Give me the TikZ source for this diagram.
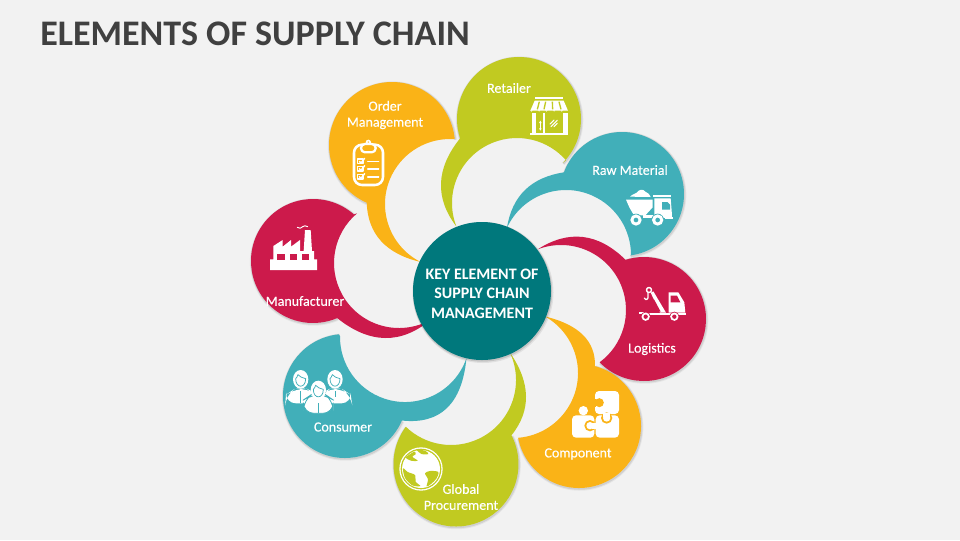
\documentclass[tikz,border=0pt]{standalone}
\usepackage{fontspec}
\setmainfont{Carlito}
\newfontfamily\labfont[FakeBold=0.25]{Carlito}
\definecolor{bgc}{HTML}{F2F2F2}
\definecolor{orangec}{HTML}{FAB317}
\definecolor{olivec}{HTML}{C1CA21}
\definecolor{tealc}{HTML}{41AFB9}
\definecolor{redc}{HTML}{CC1A4B}
\definecolor{corec}{HTML}{00787C}
\definecolor{titlec}{HTML}{404040}
\tikzset{
  lab/.style={text=white,font=\labfont\fontsize{10.5}{12}\selectfont,align=center,inner sep=0pt},
  corelab/.style={text=white,font=\fontsize{12}{14.6}\selectfont\bfseries,align=center,inner sep=0pt},
  titlelab/.style={text=titlec,font=\fontsize{27}{30}\selectfont\bfseries,inner sep=0pt,anchor=west},
  icline/.style={draw=white,line cap=round,line join=round}
}
% big circle and inner hole of a petal
\newcommand\petalcirc[6]{\def\ppcx{#1}\def\ppcy{#2}\def\ppcr{#3}\def\ppix{#4}\def\ppiy{#5}\def\ppir{#6}}
% colour, tip A, join J, mid M, tail end T
\newcommand\petaltail[9]{%
  \pgfmathsetmacro\ppaa{atan2(-(#3-\ppcy),#2-\ppcx)}%
  \pgfmathsetmacro\ppab{atan2(-(#5-\ppcy),#4-\ppcx)}%
  \pgfmathsetmacro\ppab{\ppab<\ppaa?\ppab+360:\ppab}%
  \pgfmathsetmacro\ppta{atan2(-(#9-\ppiy),#8-\ppix)}%
  \pgfmathsetmacro\pptb{atan2(-(#3-\ppiy),#2-\ppix)}%
  \pgfmathsetmacro\pptb{\pptb>\ppta?\pptb-360:\pptb}%
  \pgfmathsetmacro\ppsx{\ppcx+\ppcr*cos(\ppaa)}\pgfmathsetmacro\ppsy{\ppcy-\ppcr*sin(\ppaa)}%
  \pgfmathsetmacro\ppjx{\ppcx+\ppcr*cos(\ppab)}\pgfmathsetmacro\ppjy{\ppcy-\ppcr*sin(\ppab)}%
  \pgfmathsetmacro\pptx{\ppix+\ppir*cos(\ppta)}\pgfmathsetmacro\ppty{\ppiy-\ppir*sin(\ppta)}%
  \pgfmathsetmacro\ppcax{(4*#6-\pptx)/3}\pgfmathsetmacro\ppcay{(4*#7-\ppty)/3}%
  \pgfmathsetmacro\ppcbx{(4*#6-\ppjx)/3}\pgfmathsetmacro\ppcby{(4*#7-\ppjy)/3}%
  \pgfmathsetmacro\ppcrp{\ppcr*0.75}\pgfmathsetmacro\ppirp{\ppir*0.75}%
  \def\pparc{(\ppsx,\ppsy) arc[start angle=\ppaa,end angle=\ppab,radius=\ppcrp pt]}%
  \def\pppth{\pparc
    .. controls (\ppcax,\ppcay) and (\ppcbx,\ppcby) .. (\pptx,\ppty)
    arc[start angle=\ppta,end angle=\pptb,radius=\ppirp pt] -- cycle}%
  \draw[black,opacity=.05,line width=2.6pt,shift={(.6,1)}] \pparc;
  \draw[black,opacity=.09,line width=1.4pt,shift={(.5,.8)}] \pparc;
  \fill[#1] \pppth;
}
\begin{document}
\begin{tikzpicture}[x=.75pt,y=-.75pt]
\useasboundingbox (0,0) rectangle (960,540);
\fill[bgc] (0,0) rectangle (960,540);
\node[titlelab] (title) at (40,34) {ELEMENTS OF SUPPLY CHAIN};

% Petals
\petalcirc{313}{261}{62}{399}{263}{65}
\petaltail{redc}{356}{212}{338}{320}{385}{338}{432}{322}
\petalcirc{392}{145}{63}{450}{204}{65}
\petaltail{orangec}{453}{139}{367}{202}{381}{241}{420}{263}
\petalcirc{519}{119}{62}{517}{203}{65}
\petaltail{olivec}{563}{163}{458}{139}{441}{183}{455}{227}
\petalcirc{644}{319}{62}{561}{310}{65}
\petaltail{redc}{600}{362}{625}{258}{583}{237}{538}{250}
\petalcirc{622}{194}{62}{566}{255}{65}
\petaltail{tealc}{630}{255}{563}{172}{525}{190}{505}{227}
\petalcirc{579}{426}{62}{513}{373}{65}
\petaltail{orangec}{518}{438}{595}{366}{583}{335}{547}{313}
\petalcirc{456}{464}{62.5}{451}{380}{65}
\petaltail{olivec}{406}{427}{512}{435}{526}{396}{509}{353}
\petalcirc{345}{396}{62}{405}{337}{65}
\petaltail{tealc}{339}{336}{403}{421}{447}{408}{466}{358}

% Centre
\fill[black,opacity=.07] (483,292.5) circle (70.5);
\fill[black,opacity=.12] (482.5,292) circle (69.7);
\fill[corec] (482,291) circle (69);

% Clipboard
\begin{scope}[shift={(240,50)},scale=1/3]
\draw[icline,line width=1.9pt,rounded corners=6] (342,284) rectangle (429,405);
\fill[white] (385,277) circle (8);
\draw[icline,line width=1.7pt,fill=orangec,rounded corners=3] (363,282) rectangle (407,307);
\fill[white] (385,276) circle (6);
\fill[orangec] (385,276) circle (2);
\foreach \yy in {334,356,380}{
  \draw[icline,line width=.8pt,line cap=butt] (353,\yy-7) rectangle (369,\yy+7);
  \draw[icline,line width=1.1pt] (358,\yy) -- (363,\yy+5) -- (374,\yy-9);
  \draw[icline,line width=1pt] (383,\yy+1) -- (416,\yy+1);
}
\end{scope}

% Factory
\begin{scope}[shift={(240,50)},scale=1/3]
\fill[white] (90,628) -- (100,628) -- (100,588) -- (128,570) -- (128,590) -- (153,570) -- (153,590) -- (180,570) -- (180,603) -- (191,603) -- (195,540) -- (212,540) -- (216,603) -- (222,603) -- (222,628) -- (231,628) -- (231,660) -- (90,660) -- cycle;
\fill[redc] (112,612) rectangle (134,631);
\fill[redc] (150,612) rectangle (171,631);
\fill[redc] (187,612) rectangle (208,631);
\draw[icline,line width=.7pt] (172,532) .. controls (178,538) and (184,534) .. (188,530) .. controls (192,526) and (198,527) .. (203,530);
\end{scope}

% Store
\begin{scope}[shift={(450,50)},scale=1/3]
\fill[white] (255,141) rectangle (340,148);
\fill[white] (254,152) -- (341,152) -- (354,182) -- (241,182) -- cycle;
\foreach \xa/\xb in {268/262,287/282,307/308,327/333}{
  \draw[olivec,line width=1pt] (\xa,155) -- (\xb,178);
}
\foreach \xx in {252,275,297,320,343}{
  \fill[white] (\xx-11.4,181) arc[start angle=180,end angle=360,radius=2.85pt];
}
\fill[white] (245,190) rectangle (259,250);
\fill[white] (339,190) rectangle (353,250);
\fill[white] (279,190) rectangle (284,250);
\fill[white] (240,248) rectangle (354,255);
\draw[icline,line width=.7pt] (271,216) -- (271,238);
\fill[white] (267,219) -- (275,219) -- (271,212) -- cycle;
\fill[white] (267,235) -- (275,235) -- (271,242) -- cycle;
\draw[icline,line width=.8pt] (300,222) -- (312,210) (303,230) -- (322,211) (312,230) -- (322,220);
\end{scope}

% Dump truck
\begin{scope}[shift={(450,50)},scale=1/3]
\fill[white] (540,440) .. controls (548,432) and (555,432) .. (560,428) .. controls (566,418) and (580,416) .. (586,425) .. controls (596,428) and (598,434) .. (602,441) -- cycle;
\fill[white] (528,449) -- (608,449) -- (608,472) -- (586,496) -- (552,496) -- (538,472) -- cycle;
\fill[white] (610,434) rectangle (662,440);
\fill[white] (613,445) -- (662,445) -- (666,495) -- (613,495) -- cycle;
\fill[tealc] (636,456) -- (652,456) -- (660,464) -- (660,479) -- (636,479) -- cycle;
\fill[white] (580,495) rectangle (666,504);
\fill[white] (645,500) rectangle (670,506);
\foreach \xx in {558,623}{
  \fill[tealc] (\xx,510) circle (19);
  \fill[white] (\xx,510) circle (17);
  \fill[tealc] (\xx,510) circle (7);
}
\end{scope}

% Tow truck
\begin{scope}[shift={(500,260)},scale=1/3]
\fill[white] (506,97) -- (535,97) -- (553,127) -- (556,158) -- (506,158) -- cycle;
\fill[redc] (512,107) -- (531,107) -- (541,127) -- (512,127) -- cycle;
\fill[white] (447,158) rectangle (557,166);
\fill[white] (418,157) rectangle (431,163);
\fill[white] (452,98) -- (460,94) -- (498,158) -- (480,158) -- cycle;
\fill[redc] (458,120) -- (462,118) -- (482,155) -- (472,155) -- cycle;
\draw[icline,line width=1.1pt] (447,90) circle (7.5);
\draw[icline,line width=1pt] (444,98) -- (444,108) .. controls (446,116) and (438,124) .. (433,114);
\foreach \xx in {437,523}{
  \fill[redc] (\xx,170) circle (15);
  \fill[white] (\xx,170) circle (12.5);
  \fill[redc] (\xx,170) circle (6.5);
}
\end{scope}

% Puzzle
\begin{scope}[shift={(500,260)},scale=1/3]
\fill[white,rounded corners=3] (285,393) rectangle (357,462);
\fill[orangec] (298,428) circle (13.5);
\fill[orangec] (281,417) rectangle (287,440);
\fill[white,rounded corners=3] (216,466) rectangle (283,533);
\fill[white] (250,452) circle (14);
\fill[white,rounded corners=3] (287,466) rectangle (357,533);
\fill[orangec] (320,474) circle (17);
\fill[white] (320,474) circle (11);
\fill[white] (310,460) rectangle (330,470);
\fill[orangec] (270,497) circle (17);
\fill[white] (270,497) circle (11);
\fill[white] (275,488) rectangle (292,506);
\end{scope}

% Globe
\begin{scope}[shift={(395,440)},scale=1/3]
\fill[white] (78,87) circle (65);
\fill[olivec] (78,87) circle (61);
\fill[white] (78,87) circle (57);
\fill[olivec] plot[smooth cycle] coordinates {(24,85) (38,96) (60,105) (62,125) (76,138) (52,136) (30,114)};
\fill[olivec] plot[smooth cycle] coordinates {(90,100) (105,93) (130,96) (124,116) (108,132) (95,139) (99,118)};
\fill[olivec] plot[smooth cycle] coordinates {(33,52) (58,35) (62,43) (52,50) (68,62) (48,62)};
\fill[olivec] plot[smooth cycle] coordinates {(66,30) (90,32) (100,42) (80,42)};
\end{scope}

% People
\begin{scope}[shift={(280,360)},scale=1/3]
\fill[white,rounded corners=8] (16,130) -- (18,104) -- (45,86) -- (80,86) -- (108,100) -- (108,130) -- cycle;
\fill[white,rounded corners=8] (124,130) -- (124,100) -- (150,86) -- (185,86) -- (212,104) -- (216,130) -- cycle;
\draw[tealc,fill=white,line width=.6pt,rounded corners=8] (70,160) -- (70,120) -- (95,103) -- (135,103) -- (160,120) -- (160,160) -- cycle;
\foreach \hx/\hy in {62/58,165/58,115/90}{
  \fill[white] (\hx,\hy) ellipse (23 and 28);
  \draw[tealc,line width=.55pt] (\hx-15,\hy-2) .. controls (\hx-15,\hy+28) and (\hx+15,\hy+28) .. (\hx+15,\hy-2) .. controls (\hx+6,\hy-4) and (\hx-4,\hy-8) .. (\hx-8,\hy-14) .. controls (\hx-10,\hy-8) and (\hx-12,\hy-5) .. (\hx-15,\hy-2);
}
\fill[tealc] (114,128) rectangle (118,160);
\fill[tealc] (61,94) rectangle (64,130);
\fill[tealc] (164,94) rectangle (167,112);
\end{scope}

% Labels
\node[lab] (order) at (385,115) {Order\\Management};
\node[lab] (retailer) at (509,88) {Retailer};
\node[lab] (raw) at (630,170) {Raw Material};
\node[lab] (logistics) at (652,349) {Logistics};
\node[lab] (component) at (578,454) {Component};
\node[lab] (global) at (461,497) {Global\\Procurement};
\node[lab] (consumer) at (343,427) {Consumer};
\node[lab] (manufacturer) at (305,301) {Manufacturer};
\node[corelab] (core) at (482,293.5) {KEY ELEMENT OF\\SUPPLY CHAIN\\MANAGEMENT};
\end{tikzpicture}
\end{document}
